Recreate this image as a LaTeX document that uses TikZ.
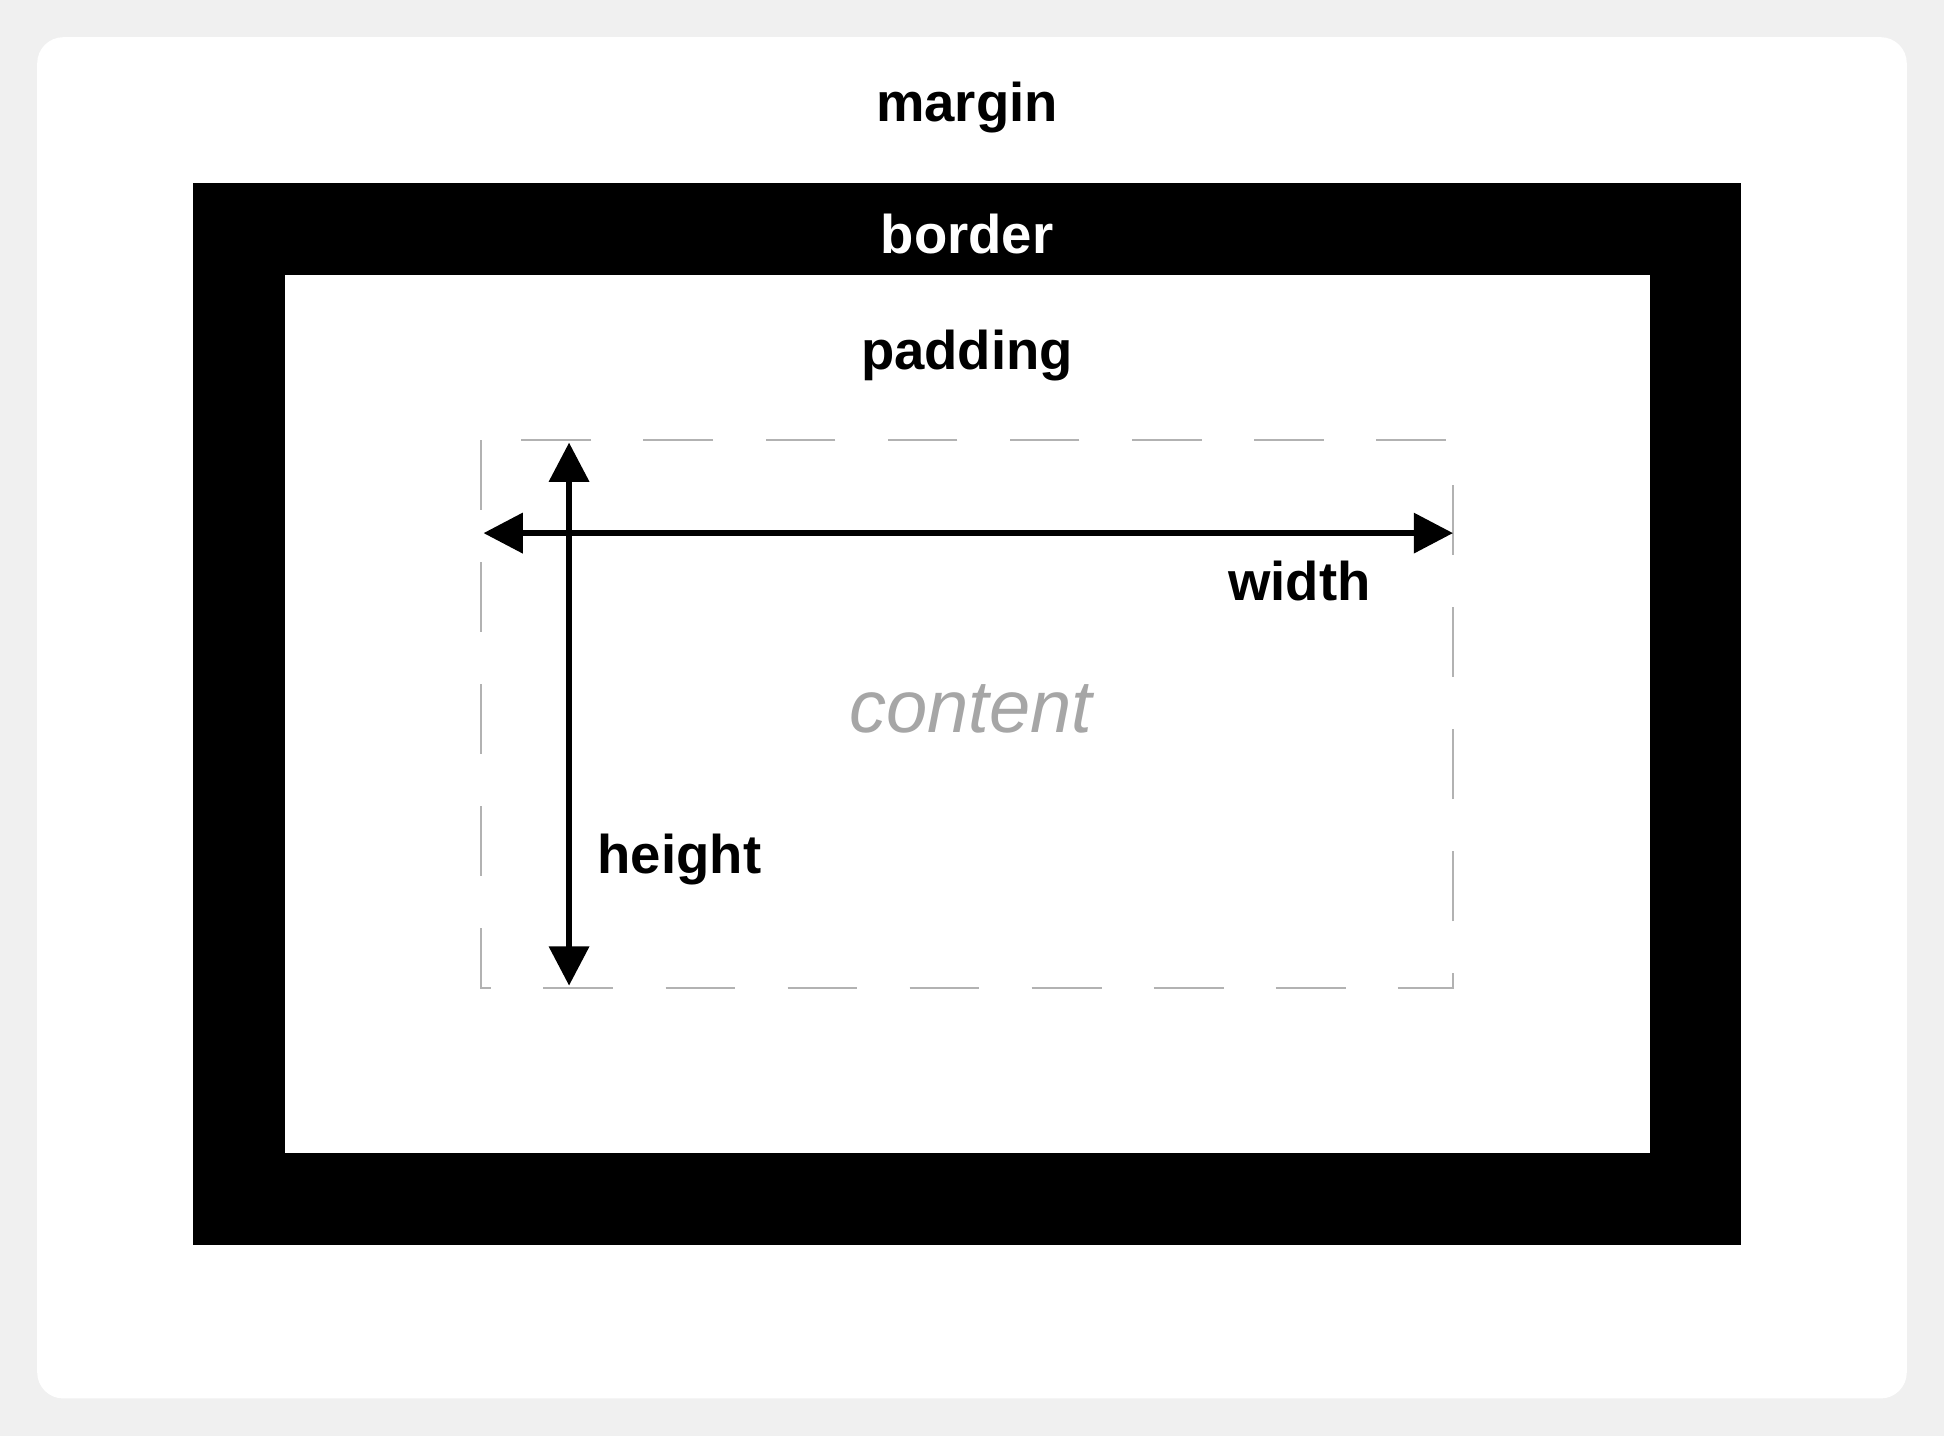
\documentclass[tikz,border=0pt]{standalone}
\usepackage{fontspec}
\setmainfont{Liberation Sans}
\usetikzlibrary{arrows.meta}
\begin{document}
\begin{tikzpicture}[x=0.01cm,y=-0.01cm,
  lbl/.style={font=\fontsize{12.5pt}{14pt}\selectfont\bfseries,inner sep=0},
  dim/.style={line width=1.4pt,{Triangle[length=9pt,width=9pt]}-{Triangle[length=9pt,width=9pt]}}]
\fill[gray!12] (0,0) rectangle (1568,1158);
\useasboundingbox (0,0) rectangle (1568,1158);
\fill[white,rounded corners=6] (30,30) rectangle (1538,1128);
\fill[black] (156,148) rectangle (1404,1004);
\fill[white] (230,222) rectangle (1331,930);
\draw[gray!60,line width=0.6pt,dash pattern=on 16pt off 12pt] (388,355) rectangle (1172,797);
\coordinate (wl) at (390,430); \coordinate (wr) at (1172,430);
\coordinate (ht) at (459,357); \coordinate (hb) at (459,795);
\draw[dim] (wl) -- (wr);
\draw[dim] (ht) -- (hb);
\node[lbl] (margin) at (780,87) {margin};
\node[lbl,text=white] (border) at (780,189) {border};
\node[lbl] (padding) at (780,287) {padding};
\node[lbl] (width) at (1048,469) {width};
\node[lbl] (height) at (548,693) {height};
\node[inner sep=0,text=gray!70,font=\fontsize{17pt}{19pt}\selectfont\itshape] (content) at (783,572) {content};
\end{tikzpicture}
\end{document}
